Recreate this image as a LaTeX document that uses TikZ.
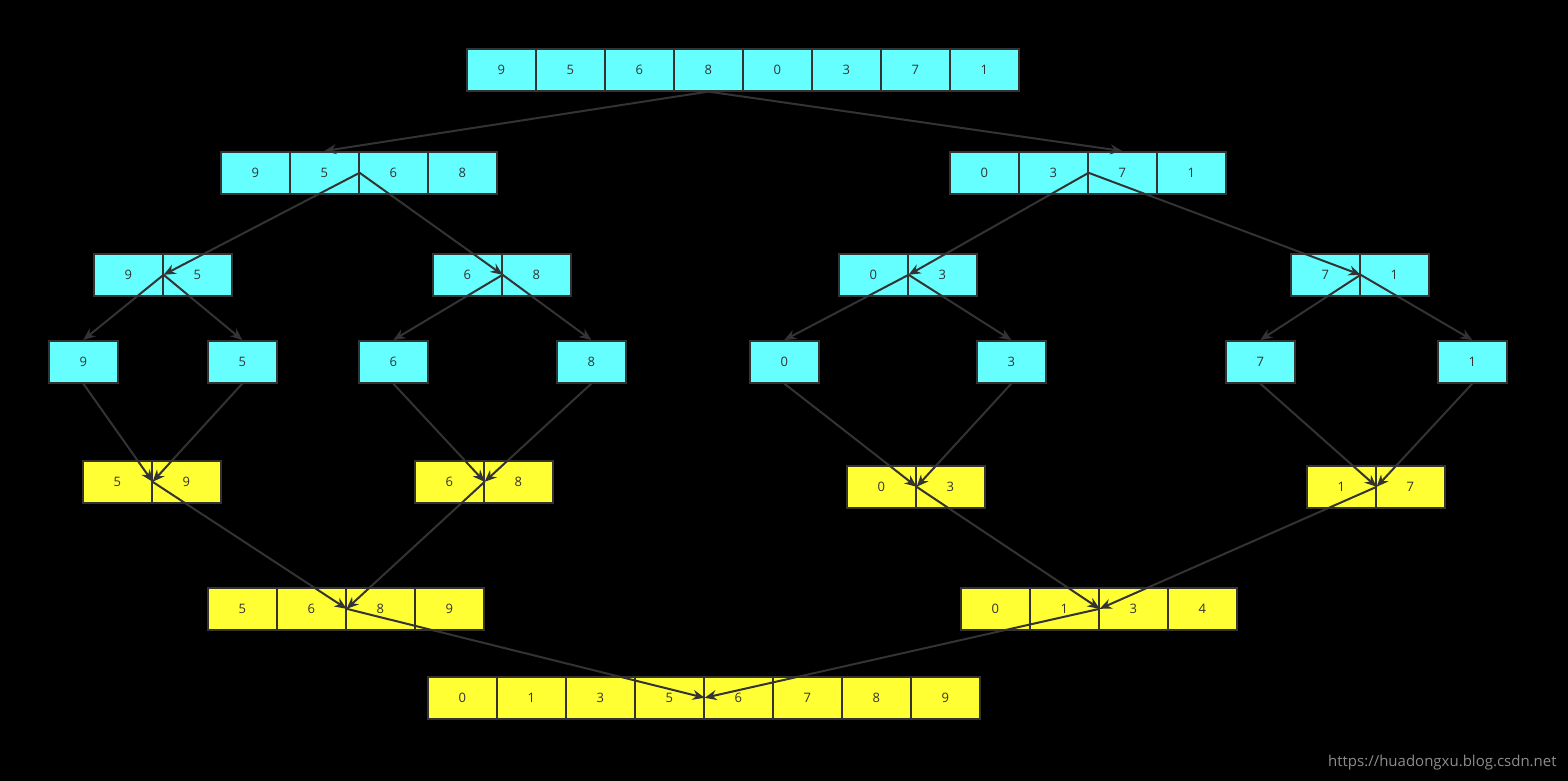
\documentclass[tikz,border=0pt]{standalone}
\usepackage{fontspec}
\setmainfont{Open Sans}
\usetikzlibrary{arrows.meta}
\definecolor{cellcyan}{RGB}{102,255,255}
\definecolor{cellyel}{RGB}{255,255,51}
\definecolor{linegray}{RGB}{51,51,51}
\begin{document}
\begin{tikzpicture}[x=0.5pt,y=-0.5pt,
  cyancell/.style={draw=linegray,line width=0.8pt,fill=cellcyan,minimum width=34.5pt,minimum height=21pt,inner sep=0pt,anchor=north west,font=\fontsize{6.5}{7}\selectfont,text=linegray},
  yelcell/.style={cyancell,fill=cellyel},
  link/.style={draw=linegray,line width=1pt,-{Stealth[length=6pt,width=5pt]}}]
\fill[black] (0,0) rectangle (1568,781);
\useasboundingbox (0,0) rectangle (1568,781);
\newcommand{\cellrow}[5]{%
  \foreach \v [count=\i from 0] in {#5}{%
    \node[#2] (#1\i) at ({#3+69*\i},#4) {\v};}}
\cellrow{a}{cyancell}{466}{48}{9,5,6,8,0,3,7,1}
\cellrow{b}{cyancell}{220}{151}{9,5,6,8}
\cellrow{c}{cyancell}{949}{151}{0,3,7,1}
\cellrow{d}{cyancell}{93}{253}{9,5}
\cellrow{e}{cyancell}{432}{253}{6,8}
\cellrow{f}{cyancell}{838}{253}{0,3}
\cellrow{g}{cyancell}{1290}{253}{7,1}
\cellrow{s1}{cyancell}{48}{340}{9}
\cellrow{s2}{cyancell}{207}{340}{5}
\cellrow{s3}{cyancell}{358}{340}{6}
\cellrow{s4}{cyancell}{556}{340}{8}
\cellrow{s5}{cyancell}{749}{340}{0}
\cellrow{s6}{cyancell}{976}{340}{3}
\cellrow{s7}{cyancell}{1225}{340}{7}
\cellrow{s8}{cyancell}{1437}{340}{1}
\cellrow{h}{yelcell}{82}{460}{5,9}
\cellrow{i}{yelcell}{414}{460}{6,8}
\cellrow{j}{yelcell}{846}{465}{0,3}
\cellrow{k}{yelcell}{1306}{465}{1,7}
\cellrow{m}{yelcell}{207}{587}{5,6,8,9}
\cellrow{n}{yelcell}{960}{587}{0,1,3,4}
\cellrow{p}{yelcell}{427}{676}{0,1,3,5,6,7,8,9}
\coordinate (ja) at (a3.south);
\coordinate (jb) at (b1.east);
\coordinate (jc) at (c1.east);
\coordinate (jd) at (d0.east);
\coordinate (je) at (e0.east);
\coordinate (jf) at (f0.east);
\coordinate (jg) at (g0.east);
\coordinate (jh) at (h0.east);
\coordinate (ji) at (i0.east);
\coordinate (jj) at (j0.east);
\coordinate (jk) at (k0.east);
\coordinate (jm) at (m1.east);
\coordinate (jn) at (n1.east);
\coordinate (jp) at (p3.east);
\coordinate (bt) at (b1.north);
\coordinate (ct) at (c2.north);
\draw[link] (ja) -- (bt);
\draw[link] (ja) -- (ct);
\draw[link] (jb) -- (jd);
\draw[link] (jb) -- (je);
\draw[link] (jc) -- (jf);
\draw[link] (jc) -- (jg);
\draw[link] (jd) -- (s10.north);
\draw[link] (jd) -- (s20.north);
\draw[link] (je) -- (s30.north);
\draw[link] (je) -- (s40.north);
\draw[link] (jf) -- (s50.north);
\draw[link] (jf) -- (s60.north);
\draw[link] (jg) -- (s70.north);
\draw[link] (jg) -- (s80.north);
\draw[link] (s10.south) -- (jh);
\draw[link] (s20.south) -- (jh);
\draw[link] (s30.south) -- (ji);
\draw[link] (s40.south) -- (ji);
\draw[link] (s50.south) -- (jj);
\draw[link] (s60.south) -- (jj);
\draw[link] (s70.south) -- (jk);
\draw[link] (s80.south) -- (jk);
\draw[link] (jh) -- (jm);
\draw[link] (ji) -- (jm);
\draw[link] (jj) -- (jn);
\draw[link] (jk) -- (jn);
\draw[link] (jm) -- (jp);
\draw[link] (jn) -- (jp);
\node[anchor=south east,text=black!45!white,font=\fontsize{7.5}{8}\selectfont,inner sep=0pt] (wm) at (1557,770) {https://huadongxu.blog.csdn.net};
\end{tikzpicture}
\end{document}
